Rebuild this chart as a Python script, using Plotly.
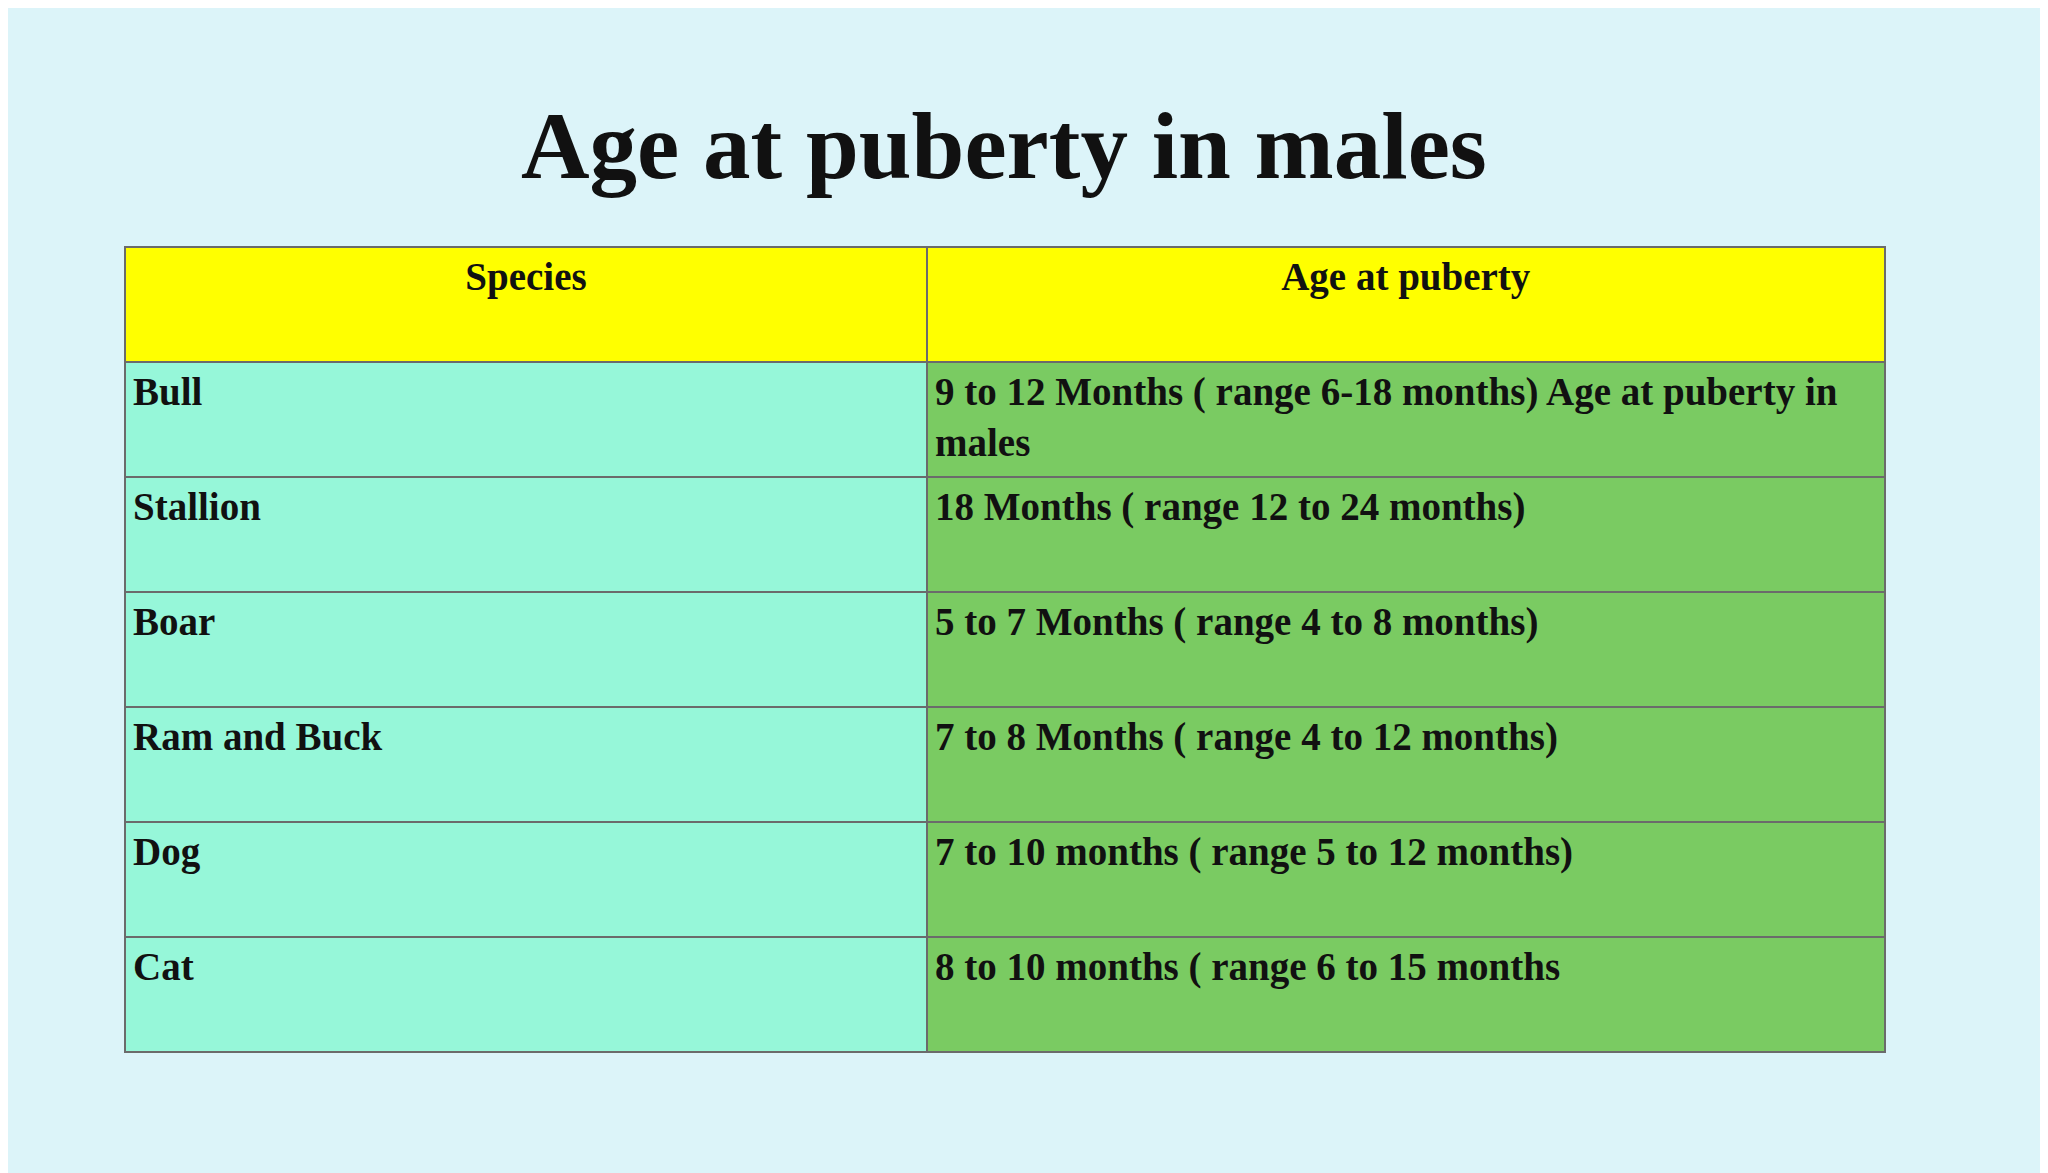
import plotly.graph_objects as go

headers = ["Species", "Age at puberty"]
species = ["Bull", "Stallion", "Boar", "Ram and Buck", "Dog", "Cat"]
ages = [
    "9 to 12 Months ( range 6-18 months) Age at puberty in<br>males",
    "18 Months ( range 12 to 24 months)",
    "5 to 7 Months ( range 4 to 8 months)",
    "7 to 8 Months ( range 4 to 12 months)",
    "7 to 10 months ( range 5 to 12 months)",
    "8 to 10 months ( range 6 to 15 months",
]

W, H = 2048, 1173
fnt = dict(family="Liberation Serif", size=39, color="#111111")
fig = go.Figure(go.Table(
    domain=dict(x=[117 / W, 1877 / W], y=[0, 1 - 239 / H]),
    columnwidth=[802, 958],
    header=dict(values=[f"<b>{h}</b>" for h in headers], fill_color="#FFFF00",
                align="center", height=115, font=fnt,
                line=dict(color="#6b6b6b", width=2)),
    cells=dict(values=[[f"<b>{s}</b>" for s in species], [f"<b>{a}</b>" for a in ages]],
               fill_color=[["#96F7D9"] * 6, ["#7ACB62"] * 6],
               align="left", height=115, font=fnt,
               line=dict(color="#6b6b6b", width=2)),
))
fig.add_annotation(text="<b>Age at puberty in males</b>", x=996 / W, y=1 - 83 / H,
                   xref="paper", yref="paper", showarrow=False,
                   font=dict(family="Liberation Serif", size=95, color="#111111"))
fig.update_layout(width=W, height=H, margin=dict(l=0, r=0, t=0, b=0),
                  paper_bgcolor="#DCF4F9", plot_bgcolor="#DCF4F9")
fig.write_html("out.html")
